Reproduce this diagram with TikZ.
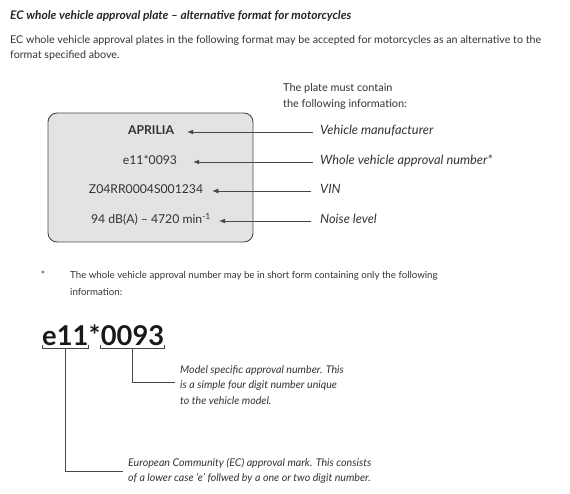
\documentclass[tikz,border=0pt]{standalone}
\usepackage{fontspec}
\setmainfont{Lato}
\usetikzlibrary{arrows.meta,positioning}
\definecolor{PlateBG}{HTML}{E3E3E5}
\definecolor{PlateFrame}{HTML}{4A4A4A}
\definecolor{InkGrey}{HTML}{333333}
\definecolor{LineGrey}{HTML}{474747}

\tikzset{
  plate/.style={draw=PlateFrame, fill=PlateBG, line width=0.9pt, rounded corners=9pt},
  entry/.style={font=\fontsize{12.2}{14}\selectfont, text height=8pt, text depth=2pt},
  info/.style={font=\fontsize{12.8}{14}\selectfont\itshape, anchor=west, text height=8pt, text depth=2pt},
  pointer/.style={draw=LineGrey, line width=0.8pt, -{Latex[length=6pt,width=5pt]}},
  leader/.style={draw=LineGrey, line width=0.8pt},
  note/.style={font=\fontsize{10.65}{15.5}\selectfont\itshape, anchor=west, align=left},
}

\begin{document}
\begin{tikzpicture}[x=1pt, y=-1pt,
  every node/.style={text=InkGrey, inner sep=0pt}]
  \useasboundingbox (0,0) rectangle (570,494);

  % heading and intro
  \node[anchor=base west, font=\fontsize{11.9}{15}\selectfont\bfseries\itshape, text=black!85]
    (title) at (10,20) {EC whole vehicle approval plate -- alternative format for motorcycles};
  \node[anchor=base west, font=\fontsize{10.7}{15}\selectfont]
    (intro1) at (10,44) {EC whole vehicle approval plates in the following format may be accepted for motorcycles as an alternative to the};
  \node[anchor=base west, font=\fontsize{10.7}{15}\selectfont]
    (intro2) at (10,59) {format specified above.};

  % the plate
  \node[plate, minimum width=205pt, minimum height=129pt] (plate) at (150.5,177.5) {};
  \node[entry, font=\fontsize{12.2}{14}\selectfont\bfseries] (mfr) at (151,132) {APRILIA};
  \node[entry] (appr) at (150,162) {e11*0093};
  \node[entry] (vin) at (146,191) {Z04RR0004S001234};
  \node[entry] (noise) at (151,221) {94 dB(A) -- 4720 min\textsuperscript{-1}};

  % what the plate must show
  \node[anchor=base west, font=\fontsize{10.9}{15}\selectfont]
    (must1) at (283,92) {The plate must contain};
  \node[anchor=base west, font=\fontsize{10.9}{15}\selectfont]
    (must2) at (283,108) {the following information:};
  \node[info] (lmfr) at (320,132) {Vehicle manufacturer};
  \node[info] (lappr) at (320,162) {Whole vehicle approval number*};
  \node[info] (lvin) at (320,191) {VIN};
  \node[info] (lnoise) at (320,221) {Noise level};

  \draw[pointer, shorten <=7pt, shorten >=13pt] (lmfr.west) -- (lmfr.west -| mfr.east);
  \draw[pointer, shorten <=7pt, shorten >=16pt] (lappr.west) -- (lappr.west -| appr.east);
  \draw[pointer, shorten <=9pt, shorten >=9pt] (lvin.west) -- (lvin.west -| vin.east);
  \draw[pointer, shorten <=9pt, shorten >=8pt] (lnoise.west) -- (lnoise.west -| noise.east);

  % footnote
  \node[anchor=base, font=\fontsize{10}{15}\selectfont] (star) at (43,279) {*};
  \node[anchor=base west, font=\fontsize{9.7}{15}\selectfont] (foot1) at (70,279)
    {The whole vehicle approval number may be in short form containing only the following};
  \node[anchor=base west, font=\fontsize{9.7}{15}\selectfont] (foot2) at (70,295) {information:};

  % short form of the number
  \node[anchor=base west, font=\fontsize{27.3}{30}\selectfont\bfseries, text=black!90] (ecmark) at (42,345) {e11};
  \node[base right=0pt of ecmark, font=\fontsize{27.3}{30}\selectfont\bfseries, text=black!90] (sep) {*};
  \node[base right=0pt of sep, font=\fontsize{27.3}{30}\selectfont\bfseries, text=black!90] (model) {0093};

  \draw[leader] ([yshift=0pt]ecmark.south west) -- ([yshift=-3pt]ecmark.south west)
    -- ([yshift=-3pt]ecmark.south east) -- ([yshift=0pt]ecmark.south east);
  \draw[leader] ([yshift=0pt]model.south west) -- ([yshift=-3pt]model.south west)
    -- ([yshift=-3pt]model.south east) -- ([yshift=0pt]model.south east);
  \coordinate (ecfoot) at ([yshift=-3pt]ecmark.south);
  \coordinate (modelfoot) at ([yshift=-3pt]model.south);

  \node[note] (modelnote) at (180,385) {Model specific approval number. This\\is a simple four digit number unique\\to the vehicle model.};
  \node[note] (ecnote) at (128,471) {European Community (EC) approval mark. This consists\\of a lower case `e' follwed by a one or two digit number.};

  \draw[leader, shorten >=5pt] (modelfoot) |- ([yshift=3pt]modelnote.west);
  \draw[leader, shorten >=5pt] (ecfoot) |- ([yshift=0pt]ecnote.west);
\end{tikzpicture}
\end{document}
